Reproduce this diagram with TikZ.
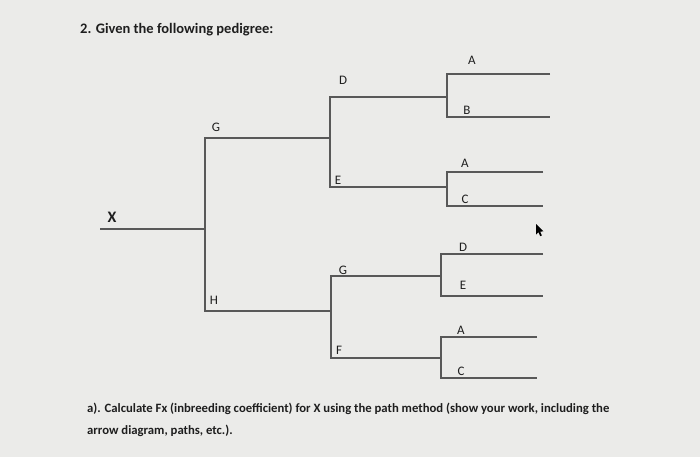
\documentclass[tikz,border=0pt]{standalone}
\usepackage{fontspec}
\setmainfont{Carlito}
\definecolor{bgc}{RGB}{235,235,233}
\definecolor{linec}{RGB}{88,88,88}
\definecolor{txtc}{RGB}{30,30,30}
\begin{document}
\begin{tikzpicture}[x=1pt,y=-1pt,
  ped/.style={draw=linec,line width=1.2pt},
  lbl/.style={inner sep=0pt,anchor=center,text=txtc,font=\fontsize{13}{15}\selectfont},
  hdr/.style={inner sep=0pt,anchor=west,text=txtc,font=\bfseries\fontsize{12.7}{20}\selectfont}]
\fill[bgc] (0,0) rectangle (700,457);
\useasboundingbox (0,0) rectangle (700,457);
% title
\node[hdr,font=\bfseries\fontsize{14.5}{16}\selectfont] (title) at (80,30) {2. Given the following pedigree:};
% coordinates
\coordinate (X) at (100,229);
\coordinate (XH) at (205,229);
\coordinate (G1) at (205,138);
\coordinate (H) at (205,311);
\coordinate (G1r) at (330,138);
\coordinate (D1) at (330,97);
\coordinate (E1) at (330,187);
\coordinate (D1r) at (447,97);
\coordinate (A1) at (447,74);
\coordinate (A1r) at (550,74);
\coordinate (B1) at (447,117);
\coordinate (B1r) at (550,117);
\coordinate (E1r) at (447,187);
\coordinate (A2) at (447,172);
\coordinate (A2r) at (543,172);
\coordinate (C1) at (447,206);
\coordinate (C1r) at (543,206);
\coordinate (Hr) at (331,311);
\coordinate (G2) at (331,276);
\coordinate (F1) at (331,358);
\coordinate (G2r) at (441,276);
\coordinate (D2) at (441,254);
\coordinate (D2r) at (543,254);
\coordinate (E2) at (441,296);
\coordinate (E2r) at (543,296);
\coordinate (F1r) at (441,358);
\coordinate (A3) at (441,337);
\coordinate (A3r) at (537,337);
\coordinate (C2) at (441,378);
\coordinate (C2r) at (537,378);
% lines
\draw[ped] (X) -- (XH);
\draw[ped] (G1r) -- (G1) -- (H) -- (Hr);
\draw[ped] (D1r) -- (D1) -- (E1) -- (E1r);
\draw[ped] (A1r) -- (A1) -- (B1) -- (B1r);
\draw[ped] (A2r) -- (A2) -- (C1) -- (C1r);
\draw[ped] (G2r) -- (G2) -- (F1) -- (F1r);
\draw[ped] (D2r) -- (D2) -- (E2) -- (E2r);
\draw[ped] (A3r) -- (A3) -- (C2) -- (C2r);
% labels
\node[lbl,font=\bfseries\fontsize{16}{18}\selectfont] (lX) at (112,217) {X};
\node[lbl] (lG1) at (216,127) {G};
\node[lbl] (lD1) at (343,80) {D};
\node[lbl] (lE1) at (338,180) {E};
\node[lbl] (lA1) at (472,60) {A};
\node[lbl] (lB1) at (467,110) {B};
\node[lbl] (lA2) at (465,163) {A};
\node[lbl] (lC1) at (465,199) {C};
\node[lbl] (lH) at (214,300) {H};
\node[lbl] (lG2) at (343,270) {G};
\node[lbl] (lF) at (339,350) {F};
\node[lbl] (lD2) at (463,247) {D};
\node[lbl] (lE2) at (463,285) {E};
\node[lbl] (lA3) at (461,330) {A};
\node[lbl] (lC2) at (461,371) {C};
% cursor
\fill[black] (536,224) -- (536,234.5) -- (538.5,232.2) -- (540.2,236.2) -- (541.8,235.5) -- (540.2,231.6) -- (543.4,231.4) -- cycle;
% question
\node[hdr] (q1) at (87,409) {a). Calculate Fx (inbreeding coefficient) for X using the path method (show your work, including the};
\node[hdr] (q2) at (87,431) {arrow diagram, paths, etc.).};
\end{tikzpicture}
\end{document}
